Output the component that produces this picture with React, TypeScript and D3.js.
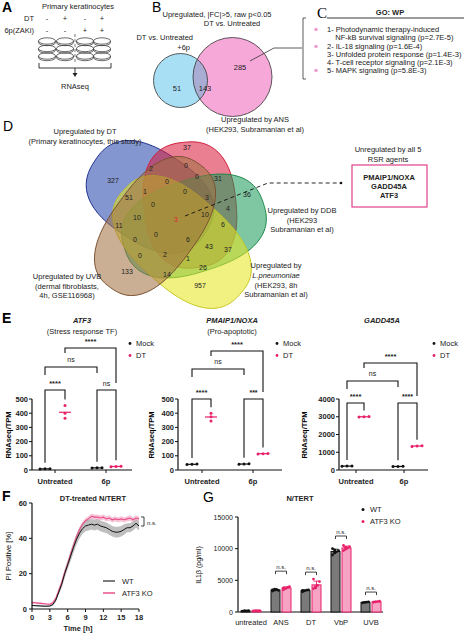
import React from 'react';
import * as d3 from 'd3';

const FONT = '"Liberation Sans", Arial, Helvetica, sans-serif';
const PINK = '#e8206a';

// ---------- Panel A ----------
const aRowLabels = ['DT', '6p(ZAKi)'];
const aSigns = [['-', '+', '-', '+'], ['-', '-', '+', '+']];

// ---------- Panel B ----------
const bSetNames = ['DT vs. Untreated', '+6p', 'DT vs. Untreated'];
const bCounts = [51, 143, 285];

// ---------- Panel C ----------
const cTitle = 'GO: WP';
const cLines = [
  '1- Photodynamic therapy-induced',
  '    NF-kB survival signaling (p=2.7E-5)',
  '2- IL-18 signaling (p=1.6E-4)',
  '3- Unfolded protein response (p=1.4E-3)',
  '4- T-cell receptor signaling (p=2.1E-3)',
  '5- MAPK signaling (p=5.8E-3)',
];
const cDots = [true, false, true, false, false, true];

// ---------- Panel D ----------
const dSetNames = ['DT', 'ANS', 'DDB', 'L.pneumoniae', 'UVB'];
const dColors = ['#2244aa', '#d81b3a', '#1a9a5a', '#e6e620', '#a07040'];
const dStrokes = ['#1f2f8f', '#d02040', '#1a8a4a', '#c8c820', '#7a5030'];
const dCounts = [37, 2, 0, 327, 0, 0, 31, 1, 51, 0, 3, 36, 4, 0, 10, 3, 10, 6, 11, 0, 6, 0, 43, 37, 0, 2, 1, 26, 133, 14, 957];
// layout of the region labels (x, y)
const dCountPos = [
  [187, 147], [151, 168], [186, 165], [113, 180], [167, 181], [197, 176], [218, 178], [145, 191], [129, 197], [185, 191],
  [207, 197], [247, 194], [228, 208], [153, 204], [137, 217], [176, 219], [205, 214], [223, 224], [119, 225], [156, 234],
  [188, 239], [135, 239], [209, 246], [228, 249], [140, 255], [165, 254], [188, 258], [203, 267], [127, 271], [167, 274], [200, 285],
];
const dShapes = [
  { cx: 150, cy: 197, a: 66, b: 46, rot: 33 },
  { cx: 190, cy: 205, a: 63, b: 46, rot: 84 },
  { cx: 194, cy: 226, a: 73, b: 46, rot: -18 },
  { cx: 182, cy: 242, a: 78, b: 46, rot: 42 },
  { cx: 155, cy: 226, a: 76, b: 43, rot: -54 },
];
const dGenes = ['PMAIP1/NOXA', 'GADD45A', 'ATF3'];

// ---------- Panel E ----------
const eGenes = ['ATF3', 'PMAIP1/NOXA', 'GADD45A'];
const eSubtitles = ['(Stress response TF)', '(Pro-apoptotic)', ''];
const eConditions = ['Untreated', '6p'];
const eYMax = [500, 500, 4000];
const eYTicks = [[0, 100, 200, 300, 400, 500], [0, 100, 200, 300, 400, 500], [0, 1000, 2000, 3000, 4000]];
const eMock = [
  [[7, 8, 9], [14, 15, 16]],
  [[38, 40, 42], [40, 42, 44]],
  [[215, 220, 225], [195, 200, 205]],
];
const eDT = [
  [[455, 400, 365], [23, 25, 27]],
  [[400, 375, 345], [113, 115, 117]],
  [[2980, 3000, 3020], [1330, 1350, 1370]],
];
const eSigLower = [['****', 'ns'], ['****', '***'], ['****', '****']];
const eSigMid = ['ns', 'ns', 'ns'];
const eSigTop = ['****', '****', '****'];

// ---------- Panel F ----------
const fTime = [0, 0.5, 1, 1.5, 2, 2.5, 3, 3.5, 4, 4.5, 5, 5.5, 6, 6.5, 7, 7.5, 8, 8.5, 9, 9.5, 10, 10.5, 11, 11.5, 12, 12.5, 13, 13.5, 14, 14.5, 15, 15.5, 16, 16.5, 17, 17.5, 18];
const fWT = [2.0, 1.9, 1.8, 1.7, 1.6, 1.6, 1.7, 2.5, 5, 9.5, 14, 20, 25, 30, 35, 39.5, 43, 45.5, 47, 47.5, 48, 47.5, 48, 47, 46.5, 46, 45, 44, 43.5, 43.5, 44, 45, 46, 46, 47, 48.5, 47];
const fWTsd = [0.4, 0.4, 0.4, 0.4, 0.4, 0.4, 0.4, 0.6, 1, 1.5, 2, 2.5, 2.5, 3, 3, 3, 3, 3, 3, 3, 3, 3, 3, 3, 3, 3, 3, 3, 3, 3, 3, 3, 2.5, 2.5, 2.5, 2.5, 2.5];
const fKO = [3.6, 3.5, 3.3, 3.2, 3.0, 2.8, 2.7, 3.5, 6, 10.5, 15, 20.5, 25.5, 31, 36, 41, 45, 48, 50, 51, 52.5, 52, 52, 51.5, 52, 51, 51.5, 50.5, 51, 50.5, 51, 50.5, 51, 51.5, 50.5, 51.5, 51];
const fKOsd = [0.6, 0.6, 0.6, 0.6, 0.6, 0.6, 0.6, 0.8, 1, 1.2, 1.5, 1.5, 1.5, 1.5, 1.5, 1.5, 1.5, 1.5, 1.5, 1.5, 1.5, 1.5, 1.5, 1.5, 1.5, 1.5, 1.5, 1.5, 1.5, 1.5, 1.5, 1.5, 1.5, 1.5, 1.5, 1.5, 1.5];
const fXTicks = [0, 3, 6, 9, 12, 15, 18];
const fYTicks = [0, 20, 40, 60];

// ---------- Panel G ----------
const gCats = ['untreated', 'ANS', 'DT', 'VbP', 'UVB'];
const gWT = [
  [150, 200, 180, 220],
  [3300, 3450, 3550, 3400, 3500, 3600],
  [3200, 3350, 3450, 3500, 3400],
  [9000, 9300, 9500, 9700, 10000, 9800],
  [1450, 1500, 1550, 1600],
];
const gKO = [
  [180, 220, 200, 210],
  [3500, 3700, 3900, 4000, 3800],
  [3700, 4000, 4200, 4800, 5200, 3800],
  [9700, 9900, 10100, 10300, 10500, 10200],
  [1550, 1600, 1650, 1700],
];
const gBracket = [null, 6450, 6300, 12000, 3150];
const gYTicks = [0, 5000, 10000, 15000];

const T = (props: any) => <text fontFamily={FONT} fontSize={7.5} fill="#222" {...props} />;

function blobPath(s: { cx: number; cy: number; a: number; b: number; rot: number }) {
  const n = 2.5;
  const pts: [number, number][] = [];
  const r = (s.rot * Math.PI) / 180;
  for (let i = 0; i < 120; i++) {
    const t = (i / 120) * Math.PI * 2;
    const c = Math.cos(t), sn = Math.sin(t);
    const x = s.a * Math.sign(c) * Math.pow(Math.abs(c), 2 / n);
    const y = s.b * Math.sign(sn) * Math.pow(Math.abs(sn), 2 / n);
    pts.push([s.cx + x * Math.cos(r) - y * Math.sin(r), s.cy + x * Math.sin(r) + y * Math.cos(r)]);
  }
  return d3.line().curve(d3.curveCardinalClosed)(pts) as string;
}

function PanelA() {
  const cols = [47, 65, 85, 102];
  const rows = [41, 48.5, 56];
  return (
    <g>
      <text x={2} y={12} fontFamily={FONT} fontSize={14} fontWeight="bold">A</text>
      <T x={78} y={9} textAnchor="middle">Primary keratinocytes</T>
      {aRowLabels.map((l, i) => (
        <T key={l} x={34} y={21 + i * 12} textAnchor="end">{l}</T>
      ))}
      {aSigns.map((row, i) => row.map((s, j) => (
        <T key={i + '-' + j} x={cols[j]} y={21 + i * 12} textAnchor="middle">{s}</T>
      )))}
      {cols.map((cx) => rows.map((cy) => (
        <g key={cx + '-' + cy}>
          <ellipse cx={cx} cy={cy} rx={8.5} ry={3.2} fill="none" stroke="#444" strokeWidth={0.8} />
          <path d={`M${cx - 8.5},${cy} v1.5 a8.5,3.2 0 0,0 17,0 v-1.5`} fill="none" stroke="#444" strokeWidth={0.8} />
        </g>
      )))}
      <line x1={75} x2={75} y1={34} y2={63} stroke="#444" strokeWidth={0.7} strokeDasharray="3,2" />
      <path d="M39,63 V68 H111 V63" fill="none" stroke="#222" strokeWidth={0.9} />
      <line x1={75} x2={75} y1={68} y2={74} stroke="#222" strokeWidth={0.9} />
      <path d="M72.5,73 L75,77 L77.5,73 Z" fill="#222" />
      <T x={75} y={89} textAnchor="middle">RNAseq</T>
    </g>
  );
}

function PanelB() {
  const blue = { cx: 180.5, cy: 80.5, r: 27 };
  const pink = { cx: 232.5, cy: 77, r: 39.5 };
  return (
    <g>
      <defs>
        <clipPath id="bBlue"><circle cx={blue.cx} cy={blue.cy} r={blue.r} /></clipPath>
      </defs>
      <text x={152} y={12} fontFamily={FONT} fontSize={14}>B</text>
      <T x={217} y={17} textAnchor="middle">Upregulated, |FC|&gt;5, raw p&lt;0.05</T>
      <T x={232} y={26} textAnchor="middle">{bSetNames[2]}</T>
      <T x={193} y={40} textAnchor="end">{bSetNames[0]}</T>
      <T x={190} y={50} textAnchor="end">{bSetNames[1]}</T>
      <circle cx={pink.cx} cy={pink.cy} r={pink.r} fill="#f6a9d9" />
      <circle cx={blue.cx} cy={blue.cy} r={blue.r} fill="#a9dff5" />
      <circle cx={pink.cx} cy={pink.cy} r={pink.r} fill="#a9acd3" clipPath="url(#bBlue)" />
      <circle cx={pink.cx} cy={pink.cy} r={pink.r} fill="none" stroke="#333" strokeWidth={0.8} />
      <circle cx={blue.cx} cy={blue.cy} r={blue.r} fill="none" stroke="#333" strokeWidth={0.8} />
      <T x={177} y={91} textAnchor="middle">{bCounts[0]}</T>
      <T x={205} y={91} textAnchor="middle">{bCounts[1]}</T>
      <T x={240} y={70} textAnchor="middle">{bCounts[2]}</T>
      <path d="M250,61 L274,48 H302" fill="none" stroke="#333" strokeWidth={0.8} />
      <path d="M306,18 H303 V79 H306" fill="none" stroke="#333" strokeWidth={0.8} />
    </g>
  );
}

function PanelC() {
  const ys = [32, 40, 49, 57, 65, 73];
  return (
    <g>
      <text x={317} y={18} fontFamily="'Liberation Serif', serif" fontSize={15}>C</text>
      <T x={390} y={15} textAnchor="middle" fontWeight="bold">{cTitle}</T>
      <line x1={327} x2={464} y1={18} y2={18} stroke="#222" strokeWidth={0.9} />
      {cLines.map((l, i) => (
        <g key={i}>
          {cDots[i] && <circle cx={316} cy={ys[i] - 2.5} r={1.8} fill="#eaa0cf" />}
          <T x={327} y={ys[i]} style={{ whiteSpace: 'pre' }}>{l}</T>
        </g>
      ))}
    </g>
  );
}

function PanelD() {
  return (
    <g>
      <text x={3} y={131} fontFamily={FONT} fontSize={14}>D</text>
      {dShapes.map((s, i) => (
        <path key={i} d={blobPath(s)} fill={dColors[i]} fillOpacity={0.56} stroke={dStrokes[i]} strokeWidth={1} />
      ))}
      {dCounts.map((c, i) => (
        <T key={i} x={dCountPos[i][0]} y={dCountPos[i][1] + 2.5} textAnchor="middle" fontSize={7} fill={i === 15 ? '#e0203a' : '#222'}>{c}</T>
      ))}
      <polyline points="185,216 268,183 341,183" fill="none" stroke="#111" strokeWidth={0.9} strokeDasharray="4,3" />
      <circle cx={341} cy={183} r={1.3} fill="#111" />
      <T x={85} y={134} textAnchor="middle">Upregulated by {dSetNames[0]}</T>
      <T x={85} y={144} textAnchor="middle">(Primary keratinocytes, this study)</T>
      <T x={255} y={122} textAnchor="middle">Upregulated by {dSetNames[1]}</T>
      <T x={255} y={132} textAnchor="middle">(HEK293, Subramanian et al)</T>
      <T x={302} y={213} textAnchor="middle">Upregulated by {dSetNames[2]}</T>
      <T x={302} y={223} textAnchor="middle">(HEK293</T>
      <T x={302} y={232} textAnchor="middle">Subramanian et al)</T>
      <T x={276} y={268} textAnchor="middle">Upregulated by</T>
      <T x={276} y={278} textAnchor="middle" fontStyle="italic">{dSetNames[3]}</T>
      <T x={276} y={288} textAnchor="middle">(HEK293, 8h</T>
      <T x={276} y={297} textAnchor="middle">Subramanian et al)</T>
      <T x={67} y={279} textAnchor="middle">Upregulated by {dSetNames[4]}</T>
      <T x={67} y={289} textAnchor="middle">(dermal fibroblasts,</T>
      <T x={67} y={298} textAnchor="middle">4h, GSE116968)</T>
      <T x={388} y={152} textAnchor="middle">Unregulated by all 5</T>
      <T x={388} y={162} textAnchor="middle">RSR agents</T>
      <rect x={352} y={165} width={75} height={42} fill="none" stroke="#e0408a" strokeWidth={1.2} />
      {dGenes.map((g, i) => (
        <T key={g} x={389} y={180 + i * 9} textAnchor="middle" fontWeight="bold">{g}</T>
      ))}
    </g>
  );
}

const eLayout = [
  { ax: 32, axEnd: 132, xs: [45, 65, 97, 116], lab: [55, 106], ylab: 9, lower: 390, mid: 367, top: 348, leg: 130 },
  { ax: 178, axEnd: 282, xs: [192, 211, 244, 263], lab: [202, 253], ylab: 152, lower: 399, mid: 369, top: 351, leg: 277 },
  { ax: 339, axEnd: 428, xs: [347, 364, 398, 417], lab: [356, 404], ylab: 305, lower: 403, mid: 381, top: 363, leg: 434 },
];

function EPlot({ i }: { i: number }) {
  const L = eLayout[i];
  const y = d3.scaleLinear().domain([0, eYMax[i]]).range([470, 399]);
  const titleX = [82, 232, 382][i];
  const groups = [
    { x: L.xs[0], v: eMock[i][0], c: '#111' },
    { x: L.xs[1], v: eDT[i][0], c: PINK },
    { x: L.xs[2], v: eMock[i][1], c: '#111' },
    { x: L.xs[3], v: eDT[i][1], c: PINK },
  ];
  const topOf = (g: any) => y(d3.max(g.v) as number);
  const br = (x1: number, x2: number, yt: number, y1: number, y2: number) =>
    `M${x1},${y1} V${yt} H${x2} V${y2}`;
  return (
    <g>
      <T x={titleX} y={323} textAnchor="middle" fontWeight="bold" fontStyle="italic">{eGenes[i]}</T>
      {eSubtitles[i] && <T x={titleX} y={334} textAnchor="middle">{eSubtitles[i]}</T>}
      <line x1={L.ax} x2={L.ax} y1={399} y2={470} stroke="#111" strokeWidth={1.2} />
      <line x1={L.ax} x2={L.axEnd} y1={470} y2={470} stroke="#111" strokeWidth={1.2} />
      {eYTicks[i].map((t) => (
        <g key={t}>
          <line x1={L.ax - 3} x2={L.ax} y1={y(t)} y2={y(t)} stroke="#111" strokeWidth={1} />
          <T x={L.ax - 4} y={y(t) + 2.6} textAnchor="end" fontWeight="bold" fontSize={7.5}>{t}</T>
        </g>
      ))}
      {L.lab.map((lx, k) => (
        <g key={k}>
          <line x1={lx} x2={lx} y1={470} y2={473} stroke="#111" strokeWidth={1} />
          <T x={lx} y={484} textAnchor="middle" fontWeight="bold">{eConditions[k]}</T>
        </g>
      ))}
      <text x={L.ylab} y={435} transform={`rotate(-90 ${L.ylab} 435)`} fontFamily={FONT} fontSize={7.5} fontWeight="bold" textAnchor="middle" dominantBaseline="middle">RNAseq/TPM</text>
      {groups.map((g, k) => {
        const m = d3.mean(g.v) as number;
        const spread = g.c === PINK && i < 2 && k === 1;
        return (
          <g key={k}>
            <line x1={g.x - 6} x2={g.x + 6} y1={y(m)} y2={y(m)} stroke={g.c} strokeWidth={1.2} />
            {g.v.map((v, j) => (
              <circle key={j} cx={spread ? g.x : g.x - 5 + j * 5} cy={y(v)} r={1.5} fill={g.c} />
            ))}
          </g>
        );
      })}
      <path d={br(L.xs[0], L.xs[1], L.lower, topOf(groups[0]) - 6, topOf(groups[1]) - 6)} fill="none" stroke="#111" strokeWidth={1.1} />
      <path d={br(L.xs[2], L.xs[3], L.lower, topOf(groups[2]) - 6, topOf(groups[3]) - 6)} fill="none" stroke="#111" strokeWidth={1.1} />
      <T x={(L.xs[0] + L.xs[1]) / 2} y={L.lower - 4} textAnchor="middle" fontWeight="bold" fontSize={eSigLower[i][0] === 'ns' ? 7 : 7.5}>{eSigLower[i][0]}</T>
      <T x={(L.xs[2] + L.xs[3]) / 2} y={L.lower - 4} textAnchor="middle" fontSize={7} fontWeight={eSigLower[i][1] === 'ns' ? 'normal' : 'bold'}>{eSigLower[i][1]}</T>
      <path d={br(L.xs[0], L.xs[2], L.mid, L.mid + 8, L.mid + 6)} fill="none" stroke="#111" strokeWidth={1.1} />
      <T x={(L.xs[0] + L.xs[2]) / 2} y={L.mid - 5} textAnchor="middle" fontSize={7}>{eSigMid[i]}</T>
      <path d={br(L.xs[1], L.xs[3], L.top, L.top + 5, L.lower - 7)} fill="none" stroke="#111" strokeWidth={1.1} />
      <T x={(L.xs[1] + L.xs[3]) / 2} y={L.top - 4} textAnchor="middle" fontWeight="bold">{eSigTop[i]}</T>
      <circle cx={L.leg} cy={343.5} r={1.4} fill="#111" />
      <T x={L.leg + 6} y={346}>Mock</T>
      <circle cx={L.leg} cy={355.5} r={1.4} fill={PINK} />
      <T x={L.leg + 6} y={358}>DT</T>
    </g>
  );
}

function PanelF() {
  const x = d3.scaleLinear().domain([0, 18]).range([32, 139]);
  const y = d3.scaleLinear().domain([0, 60]).range([609, 503]);
  const line = d3.line<number>().x((_, k) => x(fTime[k])).y((v) => y(v));
  const area = (vals: number[], sd: number[]) =>
    d3.area<number>().x((_, k) => x(fTime[k])).y0((v, k) => y(v - sd[k])).y1((v, k) => y(v + sd[k]))(vals) as string;
  return (
    <g>
      <text x={2} y={501} fontFamily={FONT} fontSize={14} fontWeight="bold">F</text>
      <T x={93} y={501} textAnchor="middle" fontWeight="bold">DT-treated N/TERT</T>
      <path d={area(fKO, fKOsd)} fill="#f6b8cf" opacity={0.8} />
      <path d={area(fWT, fWTsd)} fill="#aaa" opacity={0.75} />
      <path d={line(fKO) as string} fill="none" stroke="#e8508a" strokeWidth={1.1} />
      <path d={line(fWT) as string} fill="none" stroke="#111" strokeWidth={1} />
      <line x1={32} x2={32} y1={503} y2={609} stroke="#111" strokeWidth={1.2} />
      <line x1={32} x2={139} y1={609} y2={609} stroke="#111" strokeWidth={1.2} />
      {fYTicks.map((t) => (
        <g key={t}>
          <line x1={29} x2={32} y1={y(t)} y2={y(t)} stroke="#111" />
          <T x={27} y={y(t) + 2.7} textAnchor="end" fontWeight="bold">{t}</T>
        </g>
      ))}
      {fXTicks.map((t) => (
        <g key={t}>
          <line x1={x(t)} x2={x(t)} y1={609} y2={612} stroke="#111" />
          <T x={x(t)} y={620} textAnchor="middle" fontWeight="bold">{t}</T>
        </g>
      ))}
      <T x={78} y={631} textAnchor="middle" fontWeight="bold">Time [h]</T>
      <text x={9} y={556} transform="rotate(-90 9 556)" fontFamily={FONT} fontSize={7.5} textAnchor="middle" dominantBaseline="middle">PI Positive [%]</text>
      <path d="M141,517 H144 V526 H141" fill="none" stroke="#111" strokeWidth={0.8} />
      <T x={147} y={525} fontSize={6}>n.s.</T>
      <line x1={103} x2={115} y1={581} y2={581} stroke="#111" strokeWidth={1.1} />
      <T x={122} y={584}>WT</T>
      <line x1={103} x2={115} y1={593} y2={593} stroke="#e8508a" strokeWidth={1.5} />
      <T x={122} y={596}>ATF3 KO</T>
    </g>
  );
}

function PanelG() {
  const x = d3.scalePoint<string>().domain(gCats).range([251, 371]);
  const y = d3.scaleLinear().domain([0, 15000]).range([612, 517]);
  const bw = 9;
  return (
    <g>
      <text x={203} y={502} fontFamily={FONT} fontSize={14}>G</text>
      <T x={300} y={501} textAnchor="middle" fontWeight="bold">N/TERT</T>
      <line x1={238} x2={238} y1={517} y2={612} stroke="#111" strokeWidth={1.2} />
      <line x1={238} x2={383} y1={612} y2={612} stroke="#111" strokeWidth={1.2} />
      {gYTicks.map((t) => (
        <g key={t}>
          <line x1={235} x2={238} y1={y(t)} y2={y(t)} stroke="#111" />
          <T x={233} y={y(t) + 2.7} textAnchor="end" fontSize={7}>{t}</T>
        </g>
      ))}
      <text x={199} y={565} transform="rotate(-90 199 565)" fontFamily={FONT} fontSize={7} textAnchor="middle" dominantBaseline="middle">IL1β (pg/ml)</text>
      {gCats.map((c, i) => {
        const cxp = x(c) as number;
        const sets = [
          { v: gWT[i], x0: cxp - bw - 1, fill: '#7a7a7a', stroke: '#111', dot: '#111' },
          { v: gKO[i], x0: cxp + 1, fill: '#f7a3c4', stroke: PINK, dot: PINK },
        ];
        return (
          <g key={c}>
            {sets.map((s, k) => {
              const m = d3.mean(s.v) as number;
              const sd = d3.deviation(s.v) as number;
              const mx = s.x0 + bw / 2;
              return (
                <g key={k}>
                  <rect x={s.x0} y={y(m)} width={bw} height={612 - y(m)} fill={s.fill} stroke={s.stroke} strokeWidth={1} />
                  <line x1={mx} x2={mx} y1={y(m + sd)} y2={y(m - sd)} stroke={s.stroke} strokeWidth={0.9} />
                  <line x1={mx - 3} x2={mx + 3} y1={y(m + sd)} y2={y(m + sd)} stroke={s.stroke} strokeWidth={0.9} />
                  {s.v.map((v, j) => (
                    <circle key={j} cx={mx - 3 + (j % 4) * 2} cy={y(v)} r={1.4} fill={s.dot} />
                  ))}
                </g>
              );
            })}
            {gBracket[i] != null && (
              <g>
                <path d={`M${cxp - 5.5},${y(gBracket[i] as number) + 3} V${y(gBracket[i] as number)} H${cxp + 5.5} V${y(gBracket[i] as number) + 3}`} fill="none" stroke="#111" strokeWidth={0.8} />
                <T x={cxp} y={y(gBracket[i] as number) - 2} textAnchor="middle" fontSize={6}>n.s.</T>
              </g>
            )}
            <T x={cxp} y={625} textAnchor="middle">{c}</T>
          </g>
        );
      })}
      <circle cx={363} cy={509.5} r={1.5} fill="#111" />
      <T x={370} y={512}>WT</T>
      <circle cx={363} cy={521.5} r={1.5} fill={PINK} />
      <T x={370} y={524}>ATF3 KO</T>
    </g>
  );
}

export default function App() {
  return (
    <svg width={474} height={636} style={{ position: 'absolute', left: 0, top: 0, background: '#fff' }}>
      <rect width={474} height={636} fill="#fff" />
      <PanelA />
      <PanelB />
      <PanelC />
      <PanelD />
      <text x={2} y={323} fontFamily={FONT} fontSize={14} fontWeight="bold">E</text>
      <EPlot i={0} />
      <EPlot i={1} />
      <EPlot i={2} />
      <PanelF />
      <PanelG />
    </svg>
  );
}
